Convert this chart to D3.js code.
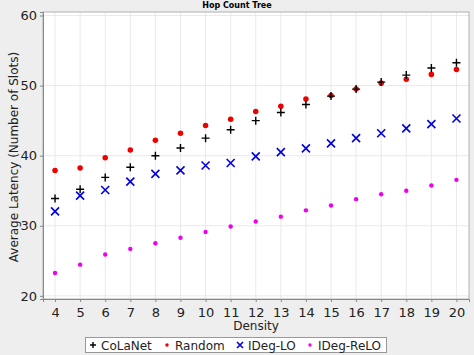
<!DOCTYPE html>
<html><head><meta charset="utf-8">
<script src="https://cdn.jsdelivr.net/npm/d3@7"></script>
<style>body{margin:0;background:#eeeeee;} svg{display:block;}</style>
</head><body>
<script>
const densities = [4,5,6,7,8,9,10,11,12,13,14,15,16,17,18,19,20];
const colanet = [33.9,35.2,36.9,38.35,40.0,41.1,42.5,43.7,45.0,46.15,47.3,48.5,49.5,50.5,51.5,52.5,53.25];
const random = [37.9,38.25,39.7,40.8,42.2,43.2,44.3,45.2,46.3,47.05,48.1,48.6,49.5,50.35,50.9,51.6,52.3];
const idegLO = [32.05,34.3,35.1,36.3,37.4,37.9,38.6,38.96,39.9,40.5,41.05,41.75,42.5,43.2,43.9,44.5,45.3];
const idegReLO = [23.26,24.45,25.9,26.7,27.5,28.3,29.1,29.9,30.6,31.3,32.2,32.9,33.8,34.5,35.0,35.75,36.55];
const yTicks = [20,30,40,50,60];
const seriesNames = ["CoLaNet","Random","IDeg-LO","IDeg-ReLO"];
const colors = ["#000000","#ee0000","#0000dd","#ee00ee"];

const W=474,H=355;
const L=43,T=12,R=469,B=299;
const svg=d3.select("body").append("svg").attr("width",W).attr("height",H);
svg.append("rect").attr("width",W).attr("height",H).attr("fill","#eeeeee");
const x=d3.scaleLinear().domain([3.52,20.5]).range([L,R]);
const y=d3.scaleLinear().domain([19.55,60.5]).range([B,T]);

svg.append("rect").attr("x",L).attr("y",T).attr("width",R-L).attr("height",B-T).attr("fill","#ffffff");
const grid=svg.append("g");
densities.forEach(d=>grid.append("line").attr("x1",x(d)).attr("x2",x(d)).attr("y1",T).attr("y2",B).attr("stroke","#e4e4e4").attr("stroke-width",0.8));
yTicks.forEach(v=>grid.append("line").attr("x1",L).attr("x2",R).attr("y1",y(v)).attr("y2",y(v)).attr("stroke","#e4e4e4").attr("stroke-width",0.8));
svg.append("rect").attr("x",L).attr("y",T).attr("width",R-L).attr("height",B-T).attr("fill","none").attr("stroke","#b0b0b0");

const xa=svg.append("g").attr("transform",`translate(0,${B})`).call(d3.axisBottom(x).tickValues(densities).tickFormat(d3.format("d")).tickSize(3));
xa.select(".domain").attr("stroke","#888");
xa.selectAll("line").attr("stroke","#888");
xa.selectAll("text").attr("font-family","DejaVu Sans").attr("font-size",13).attr("fill","#222").attr("dy","0.95em");
const ya=svg.append("g").attr("transform",`translate(${L},0)`).call(d3.axisLeft(y).tickValues(yTicks).tickSize(3));
ya.select(".domain").attr("stroke","#888");
ya.selectAll("line").attr("stroke","#888");
ya.selectAll("text").attr("font-family","DejaVu Sans").attr("font-size",13).attr("fill","#222");

svg.append("text").attr("x",237).attr("y",8).attr("text-anchor","middle").attr("font-family","DejaVu Sans").attr("font-weight","bold").attr("font-size",8).text("Hop Count Tree");
svg.append("text").attr("x",256).attr("y",330).attr("text-anchor","middle").attr("font-family","DejaVu Sans").attr("font-size",12).attr("fill","#222").text("Density");
svg.append("text").attr("transform","translate(18,157) rotate(-90)").attr("text-anchor","middle").attr("font-family","DejaVu Sans").attr("font-size",12).attr("fill","#222").text("Average Latency (Number of Slots)");

function marker(g,i,cx,cy,s){
  if(i===0){
    g.append("path").attr("d",`M${cx-s},${cy}H${cx+s}M${cx},${cy-s}V${cy+s}`).attr("stroke",colors[0]).attr("stroke-width",1.4);
  } else if(i===1){
    g.append("path").attr("d",d3.symbol(d3.symbolCircle,s*s*1.5)()).attr("transform",`translate(${cx},${cy})`).attr("fill",colors[1]);
  } else if(i===2){
    g.append("path").attr("d",`M${cx-s},${cy-s}L${cx+s},${cy+s}M${cx-s},${cy+s}L${cx+s},${cy-s}`).attr("stroke",colors[2]).attr("stroke-width",1.6);
  } else {
    g.append("circle").attr("cx",cx).attr("cy",cy).attr("r",s*0.55).attr("fill",colors[3]);
  }
}
const allSeries=[colanet,random,idegLO,idegReLO];
const mg=svg.append("g");
[1,0,2,3].forEach(i=>{
  allSeries[i].forEach((v,j)=>marker(mg,i,x(densities[j]),y(v),4));
});

// legend
const lg=svg.append("g");
lg.append("rect").attr("x",85.5).attr("y",337.5).attr("width",301).attr("height",15).attr("fill","#ffffff").attr("stroke","#999");
const items=[{x:90},{x:164},{x:237},{x:307}];
seriesNames.forEach((n,i)=>{
  marker(lg,i,items[i].x+3,345,i===0?3:(i===1?2.5:3));
  lg.append("text").attr("x",items[i].x+11).attr("y",349.5).attr("font-family","DejaVu Sans").attr("font-size",12).attr("fill","#222").text(n);
});
</script>
</body></html>
